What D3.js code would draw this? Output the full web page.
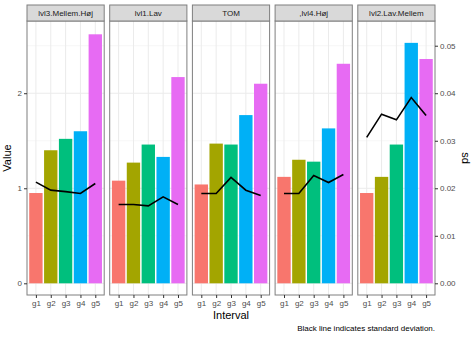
<!DOCTYPE html>
<html>
<head>
<meta charset="utf-8">
<script src="https://cdn.jsdelivr.net/npm/d3@7"></script>
<style>
  body { margin: 0; background: #fff; }
  text { font-family: "Liberation Sans", Arial, sans-serif; }
</style>
</head>
<body>
<svg id="chart" width="474" height="338"></svg>
<script>
// facets, groups and values
let panels = ["lvl3.Mellem.Høj", "lvl1.Lav", "TOM", ",lvl4.Høj", "lvl2.Lav.Mellem"];
let groups = ["g1", "g2", "g3", "g4", "g5"];
let values = [
    [0.95, 1.40, 1.52, 1.60, 2.62],
    [1.08, 1.27, 1.46, 1.33, 2.17],
    [1.04, 1.47, 1.46, 1.77, 2.10],
    [1.12, 1.30, 1.28, 1.63, 2.31],
    [0.95, 1.12, 1.46, 2.53, 2.36]
];
let sds = [
    [0.0213, 0.0196, 0.0193, 0.0189, 0.0210],
    [0.0166, 0.0166, 0.0163, 0.0182, 0.0166],
    [0.0189, 0.0189, 0.0223, 0.0196, 0.0185],
    [0.0189, 0.0189, 0.0227, 0.0212, 0.0229],
    [0.0307, 0.0356, 0.0344, 0.0391, 0.0353]
];
let leftTicks = [0, 1, 2];
let rightTicks = [0, 0.01, 0.02, 0.03, 0.04, 0.05];
let colors = ["#F8766D", "#A3A500", "#00BF7D", "#00B0F6", "#E76BF3"];

let svg = d3.select("#chart");

let plotLeft = 27, plotRight = 435, gap = 5.5;
let plotTop = 21, plotBottom = 295, stripH = 16;
let pw = (plotRight - plotLeft - gap * 4) / 5;

// shared y scale, sd mapped onto it with factor 50
let y = d3.scaleLinear().domain([-0.123, 2.76]).range([plotBottom, plotTop]);
let y2 = d3.scaleLinear().domain([-0.123 / 50, 2.76 / 50]).range([plotBottom, plotTop]);

let x = d3.scalePoint().domain(groups).range([0, pw]).padding(0.6);
let step = x.step();

panels.forEach(function(name, i) {
    let g = svg.append("g").attr("transform", "translate(" + (plotLeft + i * (pw + gap)) + ",0)");

    // grid
    [0.5, 1.5, 2.5].forEach(function(v) {
        g.append("line").attr("x1", 0).attr("x2", pw).attr("y1", y(v)).attr("y2", y(v))
            .attr("stroke", "#F2F2F2").attr("stroke-width", 0.6);
    });
    leftTicks.forEach(function(v) {
        g.append("line").attr("x1", 0).attr("x2", pw).attr("y1", y(v)).attr("y2", y(v))
            .attr("stroke", "#EBEBEB").attr("stroke-width", 1);
    });
    groups.forEach(function(c) {
        g.append("line").attr("x1", x(c)).attr("x2", x(c)).attr("y1", plotTop).attr("y2", plotBottom)
            .attr("stroke", "#EBEBEB").attr("stroke-width", 1);
    });

    // bars
    g.selectAll("rect.bar").data(values[i]).enter().append("rect")
        .attr("class", "bar")
        .attr("x", function(d, j) { return x(groups[j]) - step * 0.45; })
        .attr("width", step * 0.9)
        .attr("y", function(d) { return y(d); })
        .attr("height", function(d) { return y(0) - y(d); })
        .attr("fill", function(d, j) { return colors[j]; });

    // sd line
    let line = d3.line()
        .x(function(d, j) { return x(groups[j]); })
        .y(function(d) { return y2(d); });
    g.append("path").datum(sds[i]).attr("d", line)
        .attr("fill", "none").attr("stroke", "#000").attr("stroke-width", 1.6);

    // border
    g.append("rect").attr("x", 0).attr("y", plotTop).attr("width", pw).attr("height", plotBottom - plotTop)
        .attr("fill", "none").attr("stroke", "#7F7F7F").attr("stroke-width", 1);

    // strip
    g.append("rect").attr("x", 0).attr("y", plotTop - stripH).attr("width", pw).attr("height", stripH)
        .attr("fill", "#D9D9D9").attr("stroke", "#7F7F7F").attr("stroke-width", 1);
    g.append("text").attr("x", pw / 2).attr("y", plotTop - stripH / 2 + 3)
        .attr("text-anchor", "middle").attr("font-size", 8).attr("fill", "#1A1A1A")
        .text(name);

    // x axis
    let xa = g.append("g").attr("transform", "translate(0," + plotBottom + ")")
        .call(d3.axisBottom(x).tickSize(3).tickPadding(2));
    xa.select(".domain").remove();
    xa.selectAll("line").attr("stroke", "#333");
    xa.selectAll("text").attr("font-size", 8).attr("fill", "#4D4D4D")
        .attr("font-family", "Liberation Sans, Arial, sans-serif");
});

// left axis
let ya = svg.append("g").attr("transform", "translate(" + plotLeft + ",0)")
    .call(d3.axisLeft(y).tickValues(leftTicks).tickFormat(d3.format("d")).tickSize(3).tickPadding(2));
ya.select(".domain").remove();
ya.selectAll("line").attr("stroke", "#333");
ya.selectAll("text").attr("font-size", 8).attr("fill", "#4D4D4D")
    .attr("font-family", "Liberation Sans, Arial, sans-serif");

// right axis
let ra = svg.append("g").attr("transform", "translate(" + plotRight + ",0)")
    .call(d3.axisRight(y2).tickValues(rightTicks).tickFormat(d3.format(".2f")).tickSize(3).tickPadding(2));
ra.select(".domain").remove();
ra.selectAll("line").attr("stroke", "#333");
ra.selectAll("text").attr("font-size", 8).attr("fill", "#4D4D4D")
    .attr("font-family", "Liberation Sans, Arial, sans-serif");

// titles
svg.append("text").attr("transform", "translate(11," + ((plotTop + plotBottom) / 2) + ") rotate(-90)")
    .attr("text-anchor", "middle").attr("font-size", 11).text("Value");
svg.append("text").attr("transform", "translate(462," + ((plotTop + plotBottom) / 2) + ") rotate(90)")
    .attr("text-anchor", "middle").attr("font-size", 11).text("sd");
svg.append("text").attr("x", (plotLeft + plotRight) / 2).attr("y", 319)
    .attr("text-anchor", "middle").attr("font-size", 11).text("Interval");
svg.append("text").attr("x", plotRight).attr("y", 331)
    .attr("text-anchor", "end").attr("font-size", 8).text("Black line indicates standard deviation.");
</script>
</body>
</html>
